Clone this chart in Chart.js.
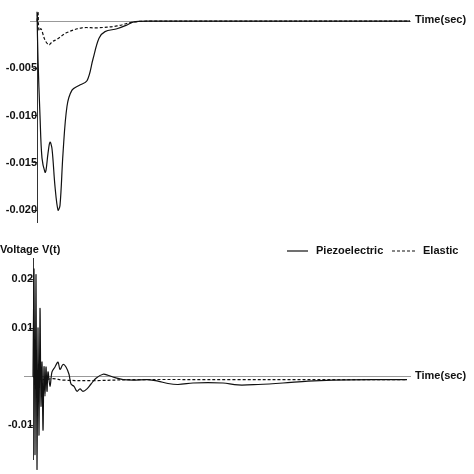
<!DOCTYPE html>
<html><head><meta charset="utf-8">
<script src="https://cdn.jsdelivr.net/npm/chart.js@4"></script>
<style>body{margin:0;background:#fff;width:474px;height:474px;position:relative;overflow:hidden}
.c{position:absolute;left:0;width:474px;height:237px}</style></head>
<body>
<div class="c" style="top:0"><canvas id="top"></canvas></div>
<div class="c" style="top:237px"><canvas id="bot"></canvas></div>
<script>
const topPiezoT=[0,1,3,5,8,9,11,13,15,18,21,23,26,30,35,42,50,56,62,68,80,90,96,110,373];
const topPiezoV=[0.001,-0.004,-0.010,-0.0145,-0.016,-0.0158,-0.014,-0.0128,-0.0135,-0.0175,-0.020,-0.0195,-0.014,-0.009,-0.0073,-0.0068,-0.0063,-0.004,-0.0018,-0.0011,-0.0008,-0.0004,-0.0001,0,0];
const topElasticT=[0,1,2,4,8,12,15,20,30,45,60,80,96,110,373];
const topElasticV=[0,0.001,-0.001,-0.0008,-0.002,-0.0025,-0.0022,-0.0019,-0.0012,-0.0007,-0.0007,-0.0005,-0.0001,0,0];
const botPiezoT=[0,1,2,3,4,5,6,7,8,9,10,11,12,13,14,15,17,19,22,25,27,30,33,36,38,41,44,47,50,54,58,63,70,75,82,90,100,115,125,135,145,160,175,190,205,225,250,275,300,340,374];
const botPiezoV=[0,0.022,-0.016,0.021,-0.019,0.01,-0.012,0.014,-0.006,0.003,-0.011,0.002,-0.004,0.002,-0.003,0.001,-0.002,0.001,0.002,0.003,0.0015,0.0025,0.002,0.0005,-0.0015,-0.002,-0.003,-0.0025,-0.003,-0.0025,-0.0015,-0.0003,0.0005,0.0003,-0.0002,-0.0006,-0.0007,-0.0006,-0.0009,-0.0014,-0.0016,-0.0013,-0.0012,-0.0013,-0.0017,-0.0016,-0.0013,-0.0009,-0.0007,-0.0006,-0.0006];
const botElasticT=[0,5,10,20,30,60,100,200,374];
const botElasticV=[0,-0.0003,-0.0006,-0.0004,-0.0007,-0.0008,-0.0006,-0.0006,-0.0006];
const seriesNames=["Piezoelectric","Elastic"];
const xLabel="Time(sec)", botTitle="Voltage V(t)";
const FONT='bold 11px "Liberation Sans", Arial, sans-serif';
const pts=(t,v)=>t.map((x,i)=>({x,y:v[i]}));
function ds(t,v,dash,label){return {label,data:pts(t,v),borderColor:'#111',borderWidth:1.2,borderDash:dash,pointRadius:0,tension:0.35,fill:false,clip:false};}
const annot={id:'annot',afterDraw(c){const g=c.ctx,a=c.chartArea,ys=c.scales.y;g.save();g.font=FONT;g.fillStyle='#111';g.textBaseline='middle';
 g.fillText(xLabel,a.right+5,ys.getPixelForValue(0)-1);
 if(c.canvas.id==='bot'){g.fillText(botTitle,0,13);
  g.strokeStyle='#111';g.lineWidth=1.2;g.beginPath();g.moveTo(287,14);g.lineTo(308,14);g.stroke();
  g.fillText(seriesNames[0],316,14);
  g.setLineDash([3,2]);g.beginPath();g.moveTo(392,14);g.lineTo(415,14);g.stroke();g.setLineDash([]);
  g.fillText(seriesNames[1],423,14);}
 g.restore();}};
function make(id,datasets,xmin,xmax,ymin,ymax,step,dec,pad){
 new Chart(document.getElementById(id),{type:'line',data:{datasets},plugins:[annot],
 options:{responsive:true,maintainAspectRatio:false,animation:false,layout:{padding:pad},
 plugins:{legend:{display:false},tooltip:{enabled:false}},
 scales:{x:{type:'linear',min:xmin,max:xmax,position:{y:0},ticks:{display:false},grid:{display:false},border:{display:true,color:'#999',width:1}},
 y:{type:'linear',min:ymin,max:ymax,position:{x:0},grid:{display:true,drawOnChartArea:false,drawTicks:true,tickLength:4,color:'#333'},border:{display:true,color:'#333',width:1},
  afterBuildTicks:s=>{s.ticks=s.ticks.filter(t=>Math.abs(t.value/step-Math.round(t.value/step))<1e-6&&Math.abs(t.value)>1e-9);},
  ticks:{stepSize:step,color:'#111',font:{family:'"Liberation Sans", Arial, sans-serif',weight:'bold',size:11},padding:8,
   callback:v=>v.toFixed(dec)}}}}});}
make('top',[ds(topPiezoT,topPiezoV,[],seriesNames[0]),ds(topElasticT,topElasticV,[3,2],seriesNames[1])],-7,373,-0.0213,0.0007,0.005,3,{left:30,right:64,top:0,bottom:6});
make('bot',[ds(botPiezoT,botPiezoV,[],seriesNames[0]),ds(botElasticT,botElasticV,[3,2],seriesNames[1])],-9,377,-0.0170,0.0244,0.01,2,{left:24,right:64,top:21,bottom:0});
</script></body></html>
